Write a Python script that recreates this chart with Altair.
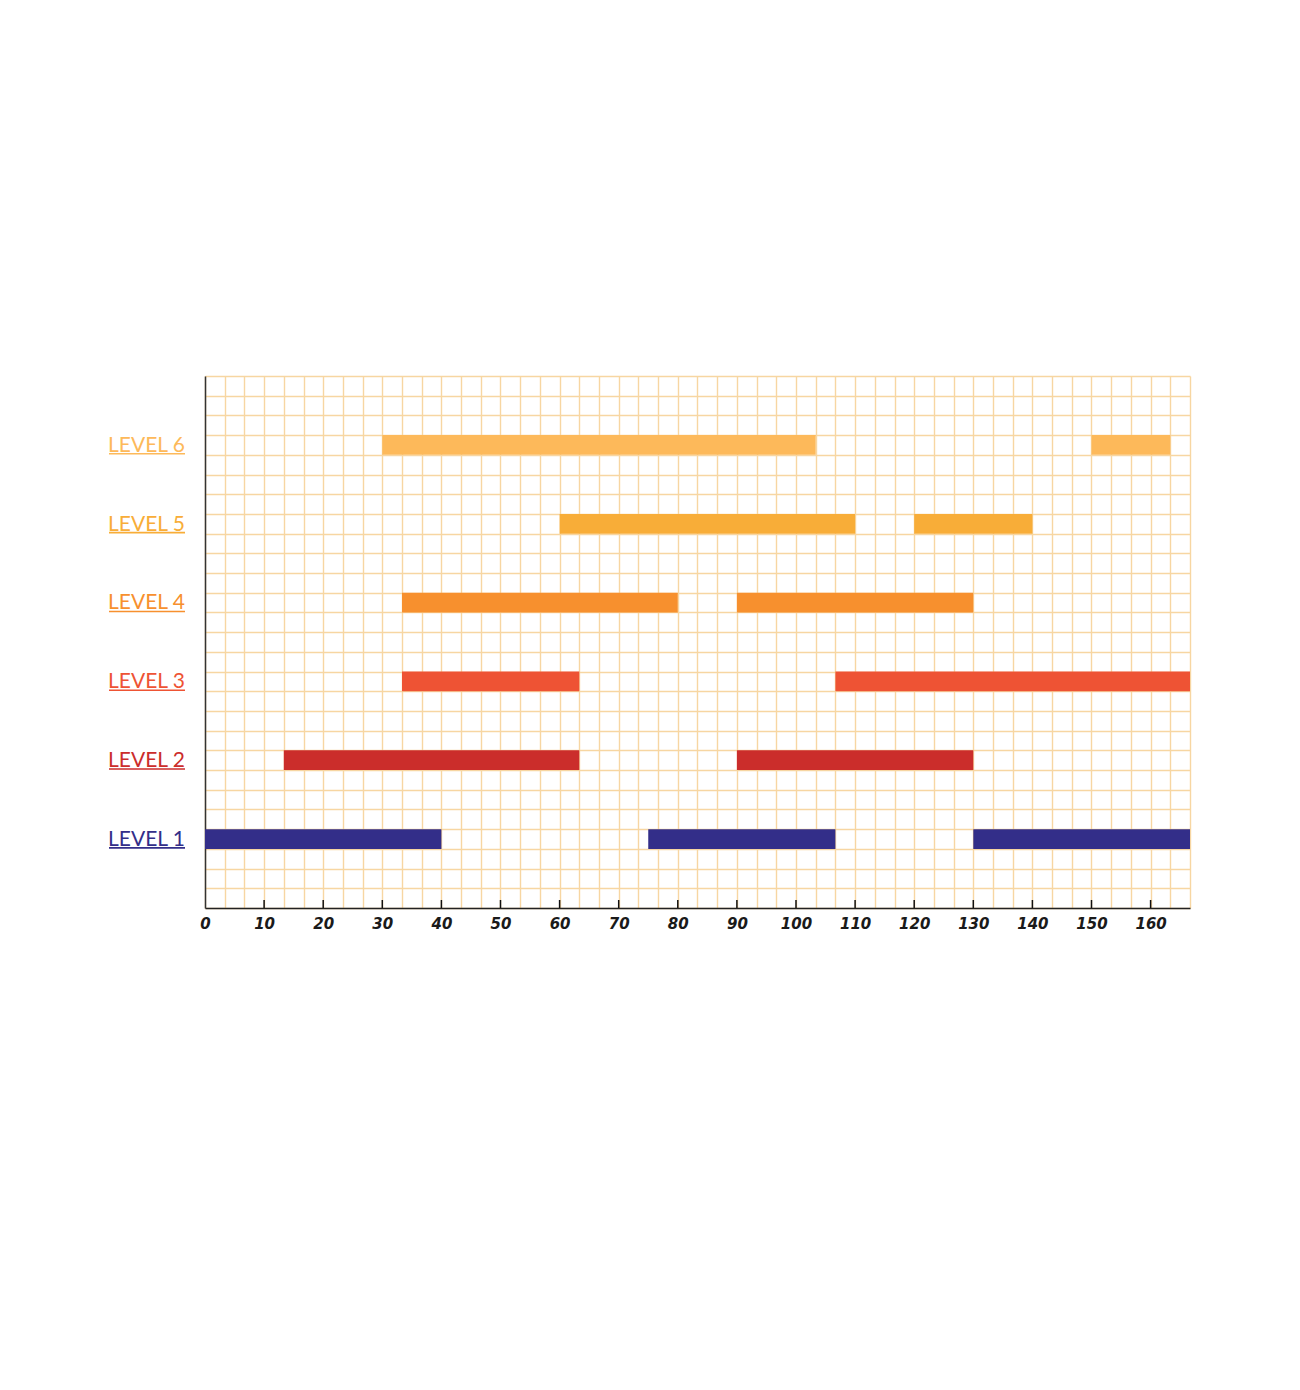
import altair as alt
import pandas as pd

# ---- data ----
levels = ["LEVEL 1", "LEVEL 2", "LEVEL 3", "LEVEL 4", "LEVEL 5", "LEVEL 6"]
colors = ["#332e89", "#cb2d2b", "#ee5334", "#f7902e", "#f8ad38", "#fdb95a"]
level_rows = [3, 7, 11, 15, 19, 23]  # grid row of each level's bar (lower edge)

seg_level = ["LEVEL 1", "LEVEL 1", "LEVEL 1",
             "LEVEL 2", "LEVEL 2",
             "LEVEL 3", "LEVEL 3",
             "LEVEL 4", "LEVEL 4",
             "LEVEL 5", "LEVEL 5",
             "LEVEL 6", "LEVEL 6"]
seg_start = [0, 75, 130,
             13.333, 90,
             33.333, 106.667,
             33.333, 90,
             60, 120,
             30, 150]
seg_end = [40, 106.667, 166.667,
           63.333, 130,
           63.333, 166.667,
           80, 130,
           110, 140,
           103.333, 163.333]

tick_values = [10, 20, 30, 40, 50, 60, 70, 80, 90, 100, 110, 120, 130, 140, 150, 160]
x_max = 166.667
y_max = 27
x_grid = [round(i * 10 / 3, 3) for i in range(51)]
y_grid = list(range(y_max + 1))

W, H = 985, 532
GRID = "#f7d6a2"

row_of = dict(zip(levels, level_rows))
bars = pd.DataFrame({"level": seg_level, "start": seg_start, "end": seg_end})
bars["row"] = bars["level"].map(row_of)
bars["row2"] = bars["row"] + 1

labels = pd.DataFrame({"level": levels, "row": level_rows})
ticks = pd.DataFrame({"v": tick_values})

xscale = alt.Scale(domain=[0, x_max], nice=False, zero=False)
yscale = alt.Scale(domain=[0, y_max], nice=False, zero=False)
cscale = alt.Scale(domain=levels, range=colors)

label_expr = ("abs(datum.value/10 - round(datum.value/10)) < 0.01 ? "
              "format(round(datum.value), 'd') : ''")

bar_layer = alt.Chart(bars).mark_rect().encode(
    x=alt.X("start:Q", scale=xscale,
            axis=alt.Axis(values=x_grid, tickCount=200, grid=True, gridColor=GRID,
                          gridWidth=1.4, ticks=False, labelExpr=label_expr,
                          labelFont="DejaVu Sans", labelFontStyle="italic",
                          labelFontWeight="bold", labelFontSize=15,
                          labelColor="#1a1a1a", labelPadding=8,
                          labelOverlap=False, labelFlush=False,
                          domainColor="#222222", domainWidth=1.5, title=None)),
    x2="end:Q",
    y=alt.Y("row:Q", scale=yscale,
            axis=alt.Axis(values=y_grid, tickCount=200, grid=True, gridColor=GRID,
                          gridWidth=1.4, ticks=False, labels=False,
                          domainColor="#333333", domainWidth=1.5, title=None)),
    y2="row2:Q",
    color=alt.Color("level:N", scale=cscale, legend=None),
)

tick_layer = alt.Chart(ticks).mark_rule(color="#111111", strokeWidth=1.5).encode(
    x=alt.X("v:Q", scale=xscale),
    y=alt.value(H),
    y2=alt.value(H - 8),
)

text_layer = alt.Chart(labels).mark_text(
    align="right", baseline="alphabetic", dy=-3, font="Lato", fontSize=21
).encode(
    x=alt.value(-20),
    y=alt.Y("row:Q", scale=yscale),
    text="level:N",
    color=alt.Color("level:N", scale=cscale, legend=None),
)

underline_layer = alt.Chart(labels).mark_rule(strokeWidth=1.6, yOffset=-1).encode(
    x=alt.value(-96),
    x2=alt.value(-20),
    y=alt.Y("row:Q", scale=yscale),
    color=alt.Color("level:N", scale=cscale, legend=None),
)

chart = alt.layer(bar_layer, tick_layer, text_layer, underline_layer).properties(
    width=W, height=H,
    autosize="none",
    padding={"left": 197, "top": 368, "right": 100, "bottom": 470},
    background="white",
).configure_view(stroke=None)

chart.save("out.html", embed_options={"renderer": "svg", "actions": False})
